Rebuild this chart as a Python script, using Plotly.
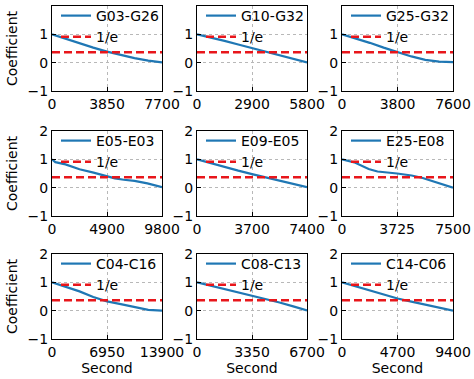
import math
import plotly.graph_objects as go

W, H = 474, 379

# ---------------- data ----------------
pair_names = ["G03-G26", "G10-G32", "G25-G32",
              "E05-E03", "E09-E05", "E25-E08",
              "C04-C16", "C08-C13", "C14-C06"]

x_max = [7700, 5800, 7600, 9800, 7400, 7500, 13900, 6700, 9400]
x_mid = [3850, 2900, 3800, 4900, 3700, 3725, 6950, 3350, 4700]

frac = [0, 0.125, 0.25, 0.375, 0.5, 0.625, 0.75, 0.875, 1.0]

g03_g26 = [1.00, 0.84, 0.69, 0.53, 0.39, 0.27, 0.16, 0.07, 0.01]
g10_g32 = [1.00, 0.89, 0.77, 0.64, 0.51, 0.40, 0.27, 0.14, 0.01]
g25_g32 = [1.00, 0.86, 0.70, 0.53, 0.37, 0.22, 0.10, 0.04, 0.02]
e05_e03_x = [0, 300, 1200, 2450, 3700, 4900, 5600, 6400, 7350, 8500, 9800]
e05_e03 = [1.00, 0.90, 0.82, 0.65, 0.53, 0.41, 0.33, 0.28, 0.24, 0.15, 0.02]
e09_e05 = [1.00, 0.86, 0.72, 0.60, 0.48, 0.36, 0.25, 0.13, 0.02]
e25_e08_x = [0, 900, 1800, 2400, 3725, 4700, 5400, 6500, 7500]
e25_e08 = [1.00, 0.88, 0.66, 0.57, 0.50, 0.43, 0.35, 0.18, 0.00]
c04_c16 = [1.00, 0.85, 0.68, 0.48, 0.33, 0.23, 0.13, 0.03, 0.00]
c08_c13 = [1.00, 0.88, 0.77, 0.65, 0.54, 0.42, 0.29, 0.15, 0.01]
c14_c06 = [1.00, 0.86, 0.73, 0.57, 0.43, 0.32, 0.21, 0.10, 0.00]

series_y = [g03_g26, g10_g32, g25_g32, e05_e03, e09_e05, e25_e08,
            c04_c16, c08_c13, c14_c06]
series_x = [None, None, None, e05_e03_x, None, e25_e08_x, None, None, None]

y_ticks = [-1, 0, 1, 2]
inv_e = 1 / math.e

# ---------------- layout geometry (pixels) ----------------
col_px = [(52, 162), (197, 307), (342, 453)]
row_px = [(6, 91), (131, 216), (254, 339)]

BLUE = "#1f77b4"
RED = "#e8161b"
FONT = "DejaVu Sans"

fig = go.Figure()
layout = dict(
    width=W, height=H,
    margin=dict(l=0, r=0, t=0, b=0, pad=0, autoexpand=False),
    paper_bgcolor="white", plot_bgcolor="white",
    font=dict(family=FONT, size=14, color="black"),
    showlegend=True,
)

for i in range(9):
    r, c = divmod(i, 3)
    n = i + 1
    xa = "x" if n == 1 else f"x{n}"
    ya = "y" if n == 1 else f"y{n}"
    lg = "legend" if n == 1 else f"legend{n}"
    xs = series_x[i] if series_x[i] is not None else [f * x_max[i] for f in frac]
    fig.add_trace(go.Scatter(x=xs, y=series_y[i], mode="lines", name=pair_names[i],
                             line=dict(color=BLUE, width=2.2),
                             xaxis=xa, yaxis=ya, legend=lg))
    fig.add_trace(go.Scatter(x=[0, x_max[i]], y=[inv_e, inv_e], mode="lines", name="1/e",
                             line=dict(color=RED, width=2.4, dash="8px,4px"),
                             xaxis=xa, yaxis=ya, legend=lg))
    x0, x1 = col_px[c]
    y0, y1 = row_px[r]
    axcommon = dict(showline=True, mirror=True, linecolor="black", linewidth=1.2,
                    ticks="inside", ticklen=4, tickwidth=1, tickcolor="black",
                    showgrid=True, gridcolor="#b8b8b8", griddash="dot", gridwidth=1,
                    zeroline=False, automargin=False,
                    tickfont=dict(size=14, family=FONT))
    xkey = "xaxis" if n == 1 else f"xaxis{n}"
    ykey = "yaxis" if n == 1 else f"yaxis{n}"
    layout[xkey] = dict(axcommon, domain=[x0 / W, x1 / W], anchor=ya,
                        range=[0, x_max[i]], tickvals=[0, x_mid[i], x_max[i]],
                        ticktext=[str(0), str(x_mid[i]), str(x_max[i])])
    layout[ykey] = dict(axcommon, domain=[1 - y1 / H, 1 - y0 / H], anchor=xa,
                        range=[-1, 2], tickvals=y_ticks)
    if c == 0:
        layout[ykey]["title"] = dict(text="Coefficient", font=dict(size=14, family=FONT), standoff=6)
    if r == 2:
        layout[xkey]["title"] = dict(text="Second", font=dict(size=14, family=FONT), standoff=4)
    layout[lg] = dict(x=(x0 + 4) / W, y=1 - (y0 - 6) / H, xanchor="left", yanchor="top",
                      bgcolor="rgba(0,0,0,0)", borderwidth=0, tracegroupgap=0,
                      font=dict(size=14, family=FONT, color="black"),
                      itemwidth=30)

fig.update_layout(**layout)
fig.write_html("out.html",
               config={"displayModeBar": False},
               post_script="document.body.style.margin='0px';document.body.style.overflow='hidden';")
